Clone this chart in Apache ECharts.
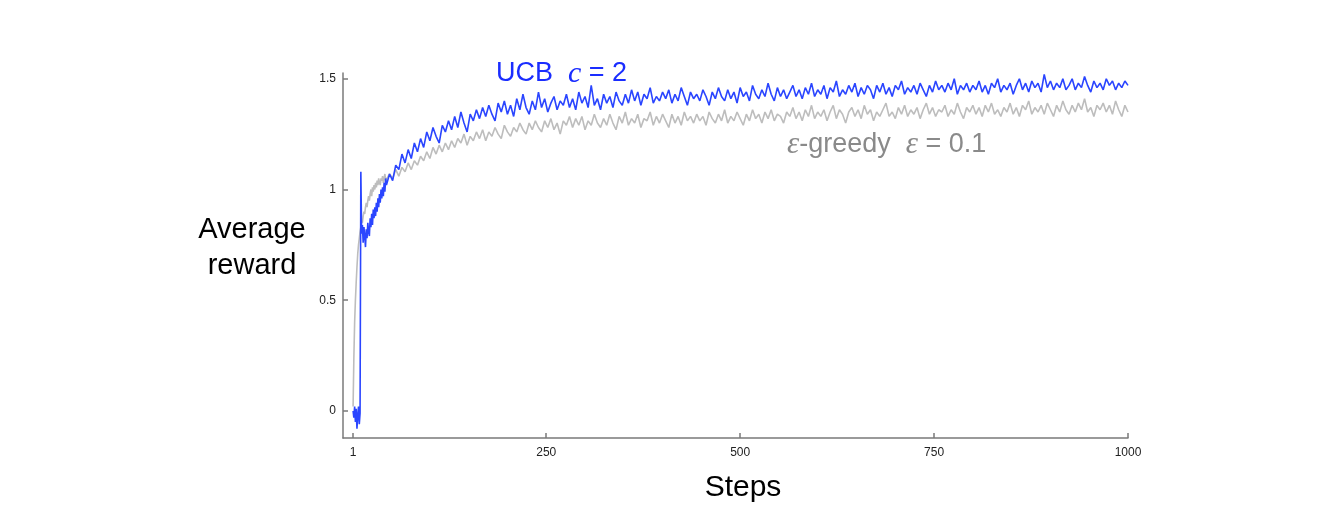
<!DOCTYPE html>
<html>
<head>
<meta charset="utf-8">
<script src="https://cdn.jsdelivr.net/npm/echarts@6/dist/echarts.min.js"></script>
<style>
html,body{margin:0;padding:0;background:#fff;}
#chart{width:1332px;height:513px;}
</style>
</head>
<body>
<div id="chart"></div>
<script>
// Tick labels
const xTicks = [1, 250, 500, 750, 1000];
const yTicks = [0, 0.5, 1, 1.5];

// Steps 1..43 sampled every step, then 44..1000 every 4 steps
const earlySteps = [];
for (let s = 1; s <= 43; s++) earlySteps.push(s);
const lateSteps = [];
for (let s = 44; s <= 1000; s += 4) lateSteps.push(s);

// UCB c=2 — average reward
const ucbEarly = [
  0.00, -0.03, 0.02, -0.05, 0.01, -0.08, -0.02, 0.02, -0.06, -0.01,
  1.08,
  0.80, 0.84, 0.76, 0.83, 0.79, 0.74, 0.82, 0.78, 0.85, 0.81,
  0.79, 0.87, 0.83, 0.89, 0.84, 0.91, 0.87, 0.92, 0.88, 0.94,
  0.90, 0.96, 0.92, 0.98, 0.94, 1.00, 0.96, 1.01, 0.97, 1.03,
  0.99, 1.05
];
const ucbLate = [
  1.02, 1.07, 1.04, 1.11, 1.09, 1.16, 1.12, 1.18, 1.14, 1.21,
  1.17, 1.23, 1.19, 1.26, 1.22, 1.28, 1.24, 1.21, 1.29, 1.26,
  1.31, 1.27, 1.33, 1.28, 1.35, 1.30, 1.26, 1.34, 1.31, 1.36,
  1.32, 1.37, 1.33, 1.38, 1.34, 1.31, 1.39, 1.35, 1.40, 1.34,
  1.38, 1.33, 1.41, 1.36, 1.43, 1.37, 1.34, 1.40, 1.36, 1.44,
  1.37, 1.41, 1.35, 1.39, 1.42, 1.36, 1.40, 1.38, 1.43, 1.37,
  1.41, 1.36, 1.44, 1.39, 1.42, 1.37, 1.47, 1.38, 1.41, 1.36,
  1.43, 1.39, 1.42, 1.37, 1.44, 1.40, 1.38, 1.43, 1.39, 1.45,
  1.40, 1.44, 1.38, 1.43, 1.41, 1.46, 1.39, 1.42, 1.40, 1.44,
  1.41, 1.45, 1.39, 1.43, 1.40, 1.46, 1.42, 1.38, 1.44, 1.41,
  1.43, 1.40, 1.45, 1.42, 1.38, 1.44, 1.41, 1.46, 1.42, 1.40,
  1.45, 1.41, 1.44, 1.39, 1.46, 1.42, 1.44, 1.40, 1.47, 1.43,
  1.41, 1.45, 1.42, 1.48, 1.43, 1.40, 1.46, 1.42, 1.45, 1.41,
  1.44, 1.47, 1.42, 1.45, 1.41, 1.46, 1.43, 1.48, 1.42, 1.45,
  1.43, 1.47, 1.41, 1.46, 1.44, 1.49, 1.42, 1.45, 1.43, 1.47,
  1.44, 1.48, 1.42, 1.46, 1.43, 1.47, 1.45, 1.41, 1.47, 1.44,
  1.48, 1.43, 1.46, 1.42, 1.47, 1.45, 1.49, 1.43, 1.46, 1.44,
  1.47, 1.43, 1.48, 1.45, 1.42, 1.47, 1.44, 1.49, 1.45, 1.47,
  1.44, 1.48, 1.45, 1.50, 1.43, 1.47, 1.45, 1.48, 1.44, 1.47,
  1.45, 1.49, 1.44, 1.47, 1.43, 1.48, 1.46, 1.50, 1.44, 1.47,
  1.45, 1.48, 1.43, 1.47, 1.50, 1.45, 1.48, 1.44, 1.49, 1.46,
  1.48, 1.44, 1.52, 1.46, 1.49, 1.45, 1.48, 1.46, 1.50, 1.45,
  1.47, 1.50, 1.45, 1.48, 1.46, 1.51, 1.47, 1.44, 1.49, 1.46,
  1.48, 1.45, 1.50, 1.47, 1.49, 1.45, 1.48, 1.46, 1.49, 1.47
];

// epsilon-greedy eps=0.1 — average reward
const epsEarly = [
  0.02, 0.24, 0.40, 0.50, 0.58, 0.65, 0.71, 0.75, 0.78, 0.81,
  0.83, 0.86, 0.85, 0.88, 0.90, 0.89, 0.92, 0.94, 0.92, 0.95,
  0.97, 0.95, 0.98, 1.00, 0.97, 1.01, 0.99, 1.02, 1.00, 1.03,
  1.01, 1.04, 1.02, 1.05, 1.03, 1.02, 1.05, 1.04, 1.06, 1.03,
  1.05, 1.07, 1.04
];
const epsLate = [
  1.04, 1.07, 1.05, 1.09, 1.06, 1.10, 1.08, 1.12, 1.09, 1.13,
  1.11, 1.15, 1.13, 1.17, 1.14, 1.19, 1.16, 1.20, 1.17, 1.21,
  1.18, 1.22, 1.19, 1.23, 1.21, 1.25, 1.20, 1.24, 1.22, 1.26,
  1.23, 1.27, 1.22, 1.26, 1.24, 1.28, 1.25, 1.23, 1.29, 1.26,
  1.24, 1.28, 1.26, 1.30, 1.27, 1.25, 1.30, 1.27, 1.31, 1.28,
  1.26, 1.31, 1.28, 1.32, 1.27, 1.30, 1.25, 1.31, 1.29, 1.33,
  1.28, 1.32, 1.29, 1.33, 1.27, 1.31, 1.29, 1.34, 1.30, 1.28,
  1.32, 1.29, 1.34, 1.30, 1.27, 1.33, 1.30, 1.35, 1.29, 1.32,
  1.30, 1.34, 1.28, 1.32, 1.31, 1.35, 1.29, 1.33, 1.30, 1.34,
  1.31, 1.28, 1.34, 1.30, 1.33, 1.29, 1.35, 1.31, 1.33, 1.30,
  1.34, 1.31, 1.33, 1.29, 1.35, 1.32, 1.30, 1.34, 1.31, 1.36,
  1.30, 1.33, 1.31, 1.35, 1.32, 1.29, 1.34, 1.31, 1.36, 1.32,
  1.34, 1.30, 1.35, 1.32, 1.36, 1.31, 1.34, 1.33, 1.30, 1.35,
  1.33, 1.37, 1.32, 1.35, 1.31, 1.36, 1.33, 1.38, 1.32, 1.35,
  1.33, 1.36, 1.31, 1.35, 1.38, 1.32, 1.36, 1.34, 1.30, 1.35,
  1.37, 1.33, 1.36, 1.32, 1.38, 1.34, 1.36, 1.31, 1.35, 1.33,
  1.36, 1.39, 1.33, 1.35, 1.32, 1.37, 1.34, 1.38, 1.33, 1.36,
  1.34, 1.37, 1.32, 1.36, 1.39, 1.34, 1.37, 1.33, 1.36, 1.35,
  1.38, 1.33, 1.36, 1.34, 1.39, 1.35, 1.32, 1.37, 1.35, 1.38,
  1.34, 1.37, 1.33, 1.38, 1.35, 1.39, 1.34, 1.36, 1.33, 1.37,
  1.35, 1.39, 1.34, 1.37, 1.33, 1.38, 1.36, 1.40, 1.34, 1.37,
  1.35, 1.38, 1.34, 1.39, 1.36, 1.33, 1.38, 1.35, 1.40, 1.36,
  1.34, 1.38, 1.35, 1.39, 1.36, 1.41, 1.35, 1.37, 1.33, 1.38,
  1.36, 1.39, 1.35, 1.38, 1.34, 1.40, 1.36, 1.33, 1.38, 1.35
];

function pairs(stepsA, valsA, stepsB, valsB) {
  const out = [];
  stepsA.forEach((s, i) => out.push([s, valsA[i]]));
  stepsB.forEach((s, i) => out.push([s, valsB[i]]));
  return out;
}

const FONT = '"Liberation Sans", Arial, Helvetica, sans-serif';
const SERIF = '"Liberation Serif", "DejaVu Serif", serif';
const chart = echarts.init(document.getElementById('chart'), null, {renderer: 'canvas'});

chart.setOption({
  animation: false,
  backgroundColor: '#ffffff',
  grid: {left: 343, right: 204, top: 73, bottom: 75, containLabel: false},
  xAxis: {
    type: 'value', min: -12, max: 1000,
    axisLine: {show: true, onZero: false, lineStyle: {color: '#7a7a7a', width: 1.5}},
    axisTick: {show: true, inside: true, length: 5, customValues: xTicks, lineStyle: {color: '#7a7a7a', width: 1.5}},
    axisLabel: {show: true, customValues: xTicks, margin: 9, color: '#222', fontSize: 12, fontFamily: FONT,
      formatter: v => String(v)},
    splitLine: {show: false}
  },
  yAxis: {
    type: 'value', min: -0.122, max: 1.526,
    axisLine: {show: true, onZero: false, lineStyle: {color: '#7a7a7a', width: 1.5}},
    axisTick: {show: true, inside: true, length: 5, customValues: yTicks, lineStyle: {color: '#7a7a7a', width: 1.5}},
    axisLabel: {show: true, customValues: yTicks, margin: 7, color: '#222', fontSize: 12, fontFamily: FONT,
      formatter: v => String(v)},
    splitLine: {show: false}
  },
  series: [
    {
      name: 'eps', type: 'line', showSymbol: false, symbol: 'none',
      data: pairs(earlySteps, epsEarly, lateSteps, epsLate),
      lineStyle: {color: '#bdbdbd', width: 1.6}, z: 2
    },
    {
      name: 'ucb', type: 'line', showSymbol: false, symbol: 'none',
      data: pairs(earlySteps, ucbEarly, lateSteps, ucbLate),
      lineStyle: {color: '#2a45ff', width: 1.6}, z: 3
    }
  ],
  graphic: [
    {type: 'text', x: 252, y: 248, style: {
      text: 'Average\nreward', fill: '#000', font: '29px ' + FONT, align: 'center', verticalAlign: 'middle', lineHeight: 36}},
    {type: 'text', x: 743, y: 488, style: {
      text: 'Steps', fill: '#000', font: '30px ' + FONT, align: 'center', verticalAlign: 'middle'}},
    {type: 'text', x: 496, y: 74, style: {
      text: '{a|UCB  }{b|c}{a| = 2}', verticalAlign: 'middle',
      rich: {
        a: {fill: '#1a2dff', fontSize: 27, fontFamily: FONT},
        b: {fill: '#1a2dff', fontSize: 30, fontFamily: SERIF, fontStyle: 'italic'}
      }}},
    {type: 'text', x: 787, y: 145, style: {
      text: '{b|ε}{a|-greedy  }{b|ε}{a| = 0.1}', verticalAlign: 'middle',
      rich: {
        a: {fill: '#8a8a8a', fontSize: 27, fontFamily: FONT},
        b: {fill: '#8a8a8a', fontSize: 31, fontFamily: SERIF, fontStyle: 'italic'}
      }}}
  ]
});
</script>
</body>
</html>
